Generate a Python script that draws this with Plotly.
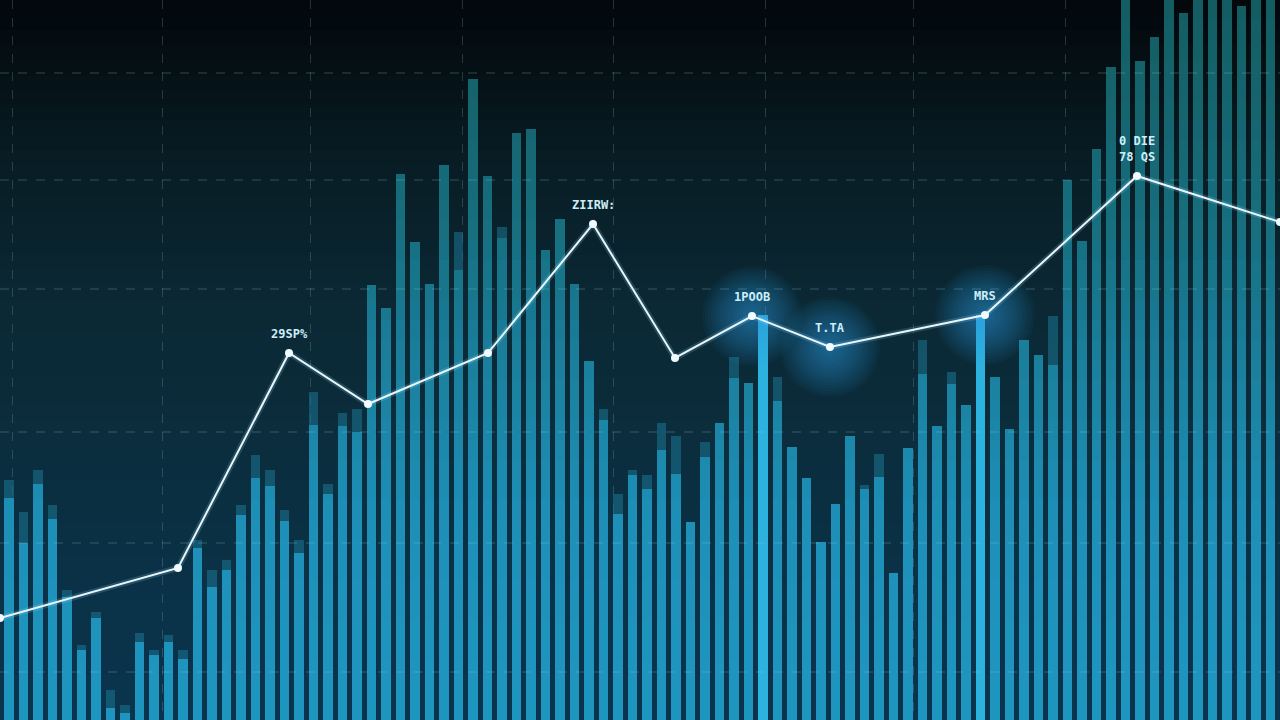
import numpy as np
import plotly.graph_objects as go

# ---------------- data ----------------
bar_index = list(range(88))
# faint outer top of every bar (value units, 0 = bottom of chart)
bar_ghost = [240, 208, 250, 215, 130, 75, 108, 30, 15, 87,
             70, 85, 70, 180, 150, 160, 215, 265, 250, 210,
             180, 328, 236, 307, 311, 435, 412, 546, 478, 436,
             555, 488, 641, 544, 493, 587, 591, 470, 501, 436,
             359, 311, 226, 250, 245, 297, 284, 198, 278, 297,
             363, 337, 405, 343, 273, 242, 178, 216, 284, 235,
             266, 147, 272, 380, 294, 348, 315, 405, 343, 291,
             380, 365, 404, 540, 479, 571, 653, 735, 659, 683,
             735, 707, 735, 735, 735, 714, 735, 735]
# solid part of every bar
bar_solid = [222, 177, 236, 201, 123, 70, 102, 12, 7, 78,
             65, 78, 61, 172, 133, 150, 205, 242, 234, 199,
             167, 295, 226, 294, 288, 435, 412, 546, 478, 436,
             555, 450, 641, 544, 482, 587, 591, 470, 501, 436,
             359, 300, 206, 245, 231, 270, 246, 198, 263, 297,
             342, 337, 405, 319, 273, 242, 178, 216, 284, 231,
             243, 147, 272, 346, 294, 336, 315, 405, 343, 291,
             380, 365, 355, 540, 479, 571, 653, 735, 659, 683,
             735, 707, 735, 735, 735, 714, 735, 735]
highlight_bars = [52, 67]

line_x = [0, 178, 289, 368, 488, 593, 675, 752, 830, 985, 1137, 1280]
line_y = [102, 152, 367, 316, 367, 496, 362, 404, 373, 405, 544, 498]
label_points = [2, 5, 7, 8, 9, 10]
label_texts = ["29SP%", "ZIIRW:", "1POOB", "T.TA", "MRS", "0 DIE<br>78 QS"]
glow_points = [7, 8, 9]

# ---------------- style helpers ----------------
def interp_color(v, stops):
    xs = [s[0] for s in stops]
    cols = np.array([s[1] for s in stops], dtype=float)
    r = np.interp(v, xs, cols[:, 0]); g = np.interp(v, xs, cols[:, 1]); b = np.interp(v, xs, cols[:, 2])
    return f"rgb({int(r)},{int(g)},{int(b)})"

bar_stops = [(0, (30, 150, 192)), (200, (30, 144, 184)), (350, (27, 128, 158)),
             (500, (23, 110, 126)), (650, (21, 98, 106)), (735, (19, 90, 96))]
bg_stops = [(0, (3, 8, 12)), (60, (5, 15, 20)), (150, (8, 28, 36)), (300, (11, 40, 52)),
            (450, (11, 46, 62)), (600, (10, 50, 72)), (720, (10, 52, 78))]

fig = go.Figure()

solid = np.array(bar_solid, dtype=float)
ghost = np.array(bar_ghost, dtype=float)
BW = 0.68

# ghost bars (dim upper parts)
fig.add_trace(go.Bar(x=bar_index, y=ghost, width=BW, marker=dict(color="rgba(28,118,148,0.55)", line_width=0),
                     hoverinfo="skip", showlegend=False))

# solid bars as vertical gradient bands
edges = np.linspace(0, 740, 38)
for lo, hi in zip(edges[:-1], edges[1:]):
    seg = np.clip(solid, lo, hi) - lo
    yv = [s if s > 0 else None for s in seg]
    fig.add_trace(go.Bar(x=bar_index, y=yv, base=lo, width=BW,
                         marker=dict(color=interp_color((lo + hi) / 2, bar_stops), line_width=0),
                         hoverinfo="skip", showlegend=False))

# highlighted bright bars
hx = [bar_index[i] for i in highlight_bars]
hy = [bar_solid[i] for i in highlight_bars]
fig.add_trace(go.Bar(x=hx, y=hy, width=BW, marker=dict(color="rgb(44,178,222)", line_width=0),
                     hoverinfo="skip", showlegend=False))

# soft glows
gx = [line_x[i] for i in glow_points]
gy = [line_y[i] for i in glow_points]
for size in np.linspace(100, 14, 16):
    fig.add_trace(go.Scatter(x=gx, y=gy, xaxis="x2", mode="markers",
                             marker=dict(size=float(size), color="rgb(40,170,235)", opacity=0.045, line_width=0),
                             hoverinfo="skip", showlegend=False))

# line glow + line
fig.add_trace(go.Scatter(x=line_x, y=line_y, xaxis="x2", mode="lines",
                         line=dict(color="rgba(150,220,250,0.18)", width=6),
                         hoverinfo="skip", showlegend=False))
fig.add_trace(go.Scatter(x=line_x, y=line_y, xaxis="x2", mode="lines+markers",
                         line=dict(color="rgb(232,246,252)", width=2),
                         marker=dict(size=8, color="rgb(240,250,255)", line_width=0),
                         hoverinfo="skip", showlegend=False))

# labels
for idx, txt in zip(label_points, label_texts):
    fig.add_annotation(x=line_x[idx], y=line_y[idx], xref="x2", yref="y", text="<b>" + txt + "</b>",
                       showarrow=False, yanchor="bottom", yshift=10,
                       font=dict(family="DejaVu Sans Mono", size=12, color="rgb(205,238,248)"))

shapes = []
# background gradient bands
nb = 48
for k in range(nb):
    y0 = k / nb; y1 = (k + 1) / nb
    px = 720 * (1 - (y0 + y1) / 2)
    shapes.append(dict(type="rect", xref="paper", yref="paper", x0=0, x1=1, y0=y0, y1=y1 + 0.002,
                       fillcolor=interp_color(px, bg_stops), line_width=0, layer="below"))
# horizontal dashed grid lines above the bars
for gyv in [647, 540, 431, 288, 177, 48]:
    shapes.append(dict(type="line", xref="paper", yref="y", x0=0, x1=1, y0=gyv, y1=gyv,
                       line=dict(color="rgba(150,200,220,0.30)", width=1, dash="dash"), layer="above"))
fig.update_layout(shapes=shapes)

fig.update_layout(
    width=1280, height=720, margin=dict(l=0, r=0, t=0, b=0),
    paper_bgcolor="rgb(8,30,40)", plot_bgcolor="rgba(0,0,0,0)",
    barmode="overlay", bargap=0, showlegend=False,
    xaxis=dict(range=[-0.62, 87.66], showticklabels=False, showgrid=False, zeroline=False, showline=False,
               fixedrange=True),
    xaxis2=dict(range=[0, 1280], overlaying="x", side="top", showticklabels=False, zeroline=False,
                showline=False, showgrid=True, gridcolor="rgba(150,200,220,0.22)", griddash="dash",
                tickvals=[12, 162, 310, 462, 613, 765, 913, 1065, 1215], ticks="", fixedrange=True),
    yaxis=dict(range=[0, 720], showticklabels=False, showgrid=False, zeroline=False, showline=False,
               fixedrange=True),
)

fig.write_html("out.html", config={"displayModeBar": False},
               post_script="document.body.style.margin='0';document.body.style.padding='0';"
                           "document.body.style.overflow='hidden';document.body.style.background='rgb(3,8,12)';")
